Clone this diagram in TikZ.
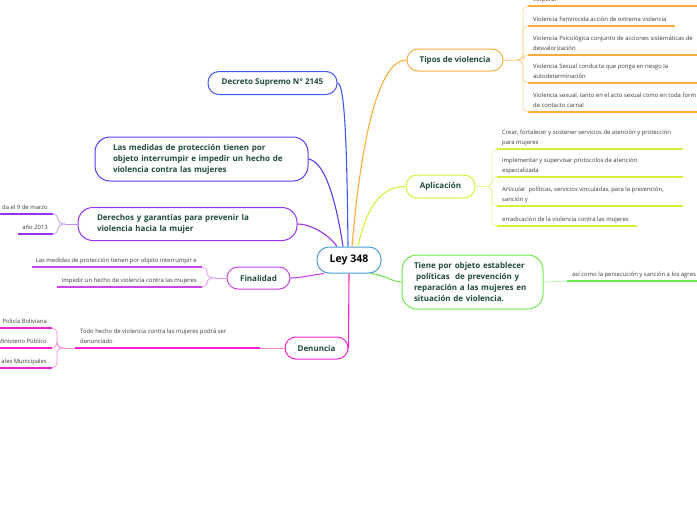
\documentclass[tikz,border=0pt]{standalone}
\usepackage{fontspec}
\setmainfont{Open Sans}
\usepackage{tikz}

\definecolor{leycol}{HTML}{4A9FD8}
\definecolor{decol}{HTML}{3D5AF1}
\definecolor{medcol}{HTML}{5B3DF0}
\definecolor{dercol}{HTML}{9B30F0}
\definecolor{fincol}{HTML}{CC44EE}
\definecolor{dencol}{HTML}{F522CF}
\definecolor{tipcol}{HTML}{FFAD3A}
\definecolor{aplcol}{HTML}{D8EE3A}
\definecolor{tiecol}{HTML}{6EEB4A}
\definecolor{titext}{HTML}{1E4B3C}
\definecolor{leaftext}{HTML}{3A3A3A}

\tikzset{
  topic/.style={draw=#1, line width=1pt, rounded corners=11pt, fill=white,
    text=titext, font=\bfseries\fontsize{8}{11}\selectfont, align=center, inner sep=3pt},
  leaf/.style={text=leaftext, font=\fontsize{5.9}{9.4}\selectfont,
    inner xsep=5pt, inner ysep=3pt, text depth=1.6pt},
  leafl/.style={leaf, anchor=south west, align=left},
  leafr/.style={leaf, anchor=south east, align=right},
  under/.style={draw=#1, line width=1.6pt},
  branch/.style={draw=#1, line width=1.1pt},
  twig/.style={draw=#1!55, line width=0.7pt, rounded corners=5pt}
}

\begin{document}
\begin{tikzpicture}[x=1pt,y=1pt]

            \useasboundingbox (0,0) rectangle (697,-520);

            % main topics
            \node[topic=leycol, text=black, font=\bfseries\fontsize{10.5}{12}\selectfont,
                  minimum width=64, minimum height=26, rounded corners=12pt] (ley) at (349,-260) {Ley 348};
            \node[topic=decol, minimum width=129, minimum height=23] (dec) at (272.5,-83) {Decreto Supremo N° 2145};
            \node[topic=medcol, align=left, text width=177, inner xsep=18, minimum height=44,
                  rounded corners=15pt] (med) at (201.5,-159)
                  {Las medidas de protección tienen por\\objeto interrumpir e impedir un hecho de\\violencia contra las mujeres};
            \node[topic=dercol, align=left, text width=181, inner xsep=19, minimum height=33,
                  rounded corners=15pt] (der) at (187.5,-224)
                  {Derechos y garantías para prevenir la\\violencia hacia la mujer};
            \node[topic=fincol, minimum width=63, minimum height=22] (fin) at (258.5,-278) {Finalidad};
            \node[topic=dencol, minimum width=63, minimum height=22] (den) at (316.5,-348) {Denuncia};
            \node[topic=tipcol, minimum width=96, minimum height=22] (tip) at (455,-60) {Tipos de violencia};
            \node[topic=aplcol, minimum width=69, minimum height=23] (apl) at (440.5,-186.5) {Aplicación};
            \node[topic=tiecol, align=left, text width=117, inner xsep=12, minimum height=54,
                  rounded corners=15pt] (tie) at (472.5,-282)
                  {Tiene por objeto establecer\\\hspace*{2pt}políticas\ \ de prevención y\\reparación a las mujeres en\\situación de violencia.};

            % branches from the centre
            \draw[branch=decol] (dec.east) .. controls (345,-83) and (347,-150) .. ([xshift=-1pt]ley.north);
            \draw[branch=medcol] (med.east) .. controls (325,-162) and (336,-200) .. ([xshift=-6pt]ley.north);
            \draw[branch=dercol] (der.east) .. controls (312,-224) and (330,-236) .. ([xshift=-12pt]ley.north);
            \draw[branch=fincol] ([xshift=-25pt]ley.south) .. controls (312,-275) and (300,-278) .. (fin.east);
            \draw[branch=dencol] (ley.south) -- (den.east);
            \draw[branch=tiecol] ([xshift=22pt]ley.south) .. controls (388,-276) and (392,-282) .. (tie.west);
            \draw[branch=tipcol] ([xshift=3pt]ley.north) .. controls (362,-130) and (380,-60) .. (tip.west);
            \draw[branch=aplcol] ([xshift=9pt]ley.north) .. controls (368,-200) and (385,-186.5) .. (apl.west);

            % Tipos de violencia
            \coordinate (tj) at (517,-60);
            \node[leafl] (t1) at (528,-6) {corporal};
            \node[leafl] (t2) at (528,-26) {Violencia Feminicida acción de extrema violencia};
            \node[leafl] (t3) at (528,-55) {Violencia Psicológica conjunto de acciones sistemáticas de\\desvalorización};
            \node[leafl] (t4) at (528,-83) {Violencia Sexual conducta que ponga en riesgo la\\autodeterminación};
            \node[leafl] (t5) at (528,-112) {Violencia sexual, tanto en el acto sexual como en toda form\\de contacto carnal};
            \draw[twig=tipcol] (tip.east) -- (tj);
            \foreach \n in {t1,t2,t3,t4,t5}
                \draw[twig=tipcol] (tj) -| ([xshift=-5pt]\n.south west) -- (\n.south west);
            \draw[under=tipcol] (t1.south west) -- +(175,0);
            \draw[under=tipcol] (t2.south west) -- +(147,0);
            \draw[under=tipcol] (t3.south west) -- +(175,0);
            \draw[under=tipcol] (t4.south west) -- +(175,0);
            \draw[under=tipcol] (t5.south west) -- +(175,0);

            % Aplicacion
            \coordinate (aj) at (488,-186.5);
            \node[leafl] (a1) at (497,-149) {Crear, fortalecer y sostener servicios de atención y protección\\para mujeres};
            \node[leafl] (a2) at (497,-177) {implementar y supervisar protocolos de atención\\especializada};
            \node[leafl] (a3) at (497,-206) {Articular\ \ políticas, servicios vinculadas, para la prevención,\\sanción y};
            \node[leafl] (a4) at (497,-226) {erradicación de la violencia contra las mujeres};
            \draw[twig=aplcol] (apl.east) -- (aj);
            \foreach \n in {a1,a2,a3,a4}
                \draw[twig=aplcol] (aj) -| ([xshift=-5pt]\n.south west) -- (\n.south west);
            \draw[under=aplcol] (a1.south west) -- +(186,0);
            \draw[under=aplcol] (a2.south west) -- +(186,0);
            \draw[under=aplcol] (a3.south west) -- +(186,0);
            \draw[under=aplcol] (a4.south west) -- +(140,0);

            % Tiene por objeto
            \node[leafl] (g1) at (567,-281) {así como la persecución y sanción a los agres};
            \draw[twig=tiecol] (tie.east) -- (g1.south west);
            \draw[under=tiecol] (g1.south west) -- +(135,0);

            % Derechos y garantias
            \coordinate (dj) at (65,-224);
            \node[leafr] (d1) at (53,-214) {da el 9 de marzo};
            \node[leafr] (d2) at (53,-234) {año 2013};
            \draw[twig=dercol] (der.west) -- (dj);
            \foreach \n in {d1,d2}
                \draw[twig=dercol] (dj) -| ([xshift=5pt]\n.south east) -- (\n.south east);
            \draw[under=dercol] (d1.south east) -- +(-60,0);
            \draw[under=dercol] (d2.south east) -- +(-35,0);

            % Finalidad
            \coordinate (fj) at (215,-278);
            \node[leafr] (f1) at (202,-267) {Las medidas de protección tienen por objeto interrumpir e};
            \node[leafr] (f2) at (202,-287) {impedir un hecho de violencia contra las mujeres};
            \draw[twig=fincol] (fin.west) -- (fj);
            \foreach \n in {f1,f2}
                \draw[twig=fincol] (fj) -| ([xshift=5pt]\n.south east) -- (\n.south east);
            \draw[under=fincol] (f1.south east) -- +(-170,0);
            \draw[under=fincol] (f2.south east) -- +(-145,0);

            % Denuncia
            \coordinate (nend) at (260,-348);
            \coordinate (nj) at (63,-348);
            \node[leafl] (n1) at (75,-348) {Todo hecho de violencia contra las mujeres podrá ser\\denunciado};
            \node[leafr] (n2) at (52,-328) {Policía Boliviana};
            \node[leafr] (n3) at (52,-348) {Ministerio Público};
            \node[leafr] (n4) at (52,-368) {ales Municipales};
            \draw[twig=dencol] (den.west) -- (nend);
            \draw[under=dencol] (n1.south west) -- (nend);
            \draw[twig=dencol] (n1.south west) -- (nj);
            \foreach \n in {n2,n3,n4}
                \draw[twig=dencol] (nj) -| ([xshift=5pt]\n.south east) -- (\n.south east);
            \draw[under=dencol] (n2.south east) -- +(-60,0);
            \draw[under=dencol] (n3.south east) -- +(-60,0);
            \draw[under=dencol] (n4.south east) -- +(-60,0);

        \end{tikzpicture}
\end{document}
